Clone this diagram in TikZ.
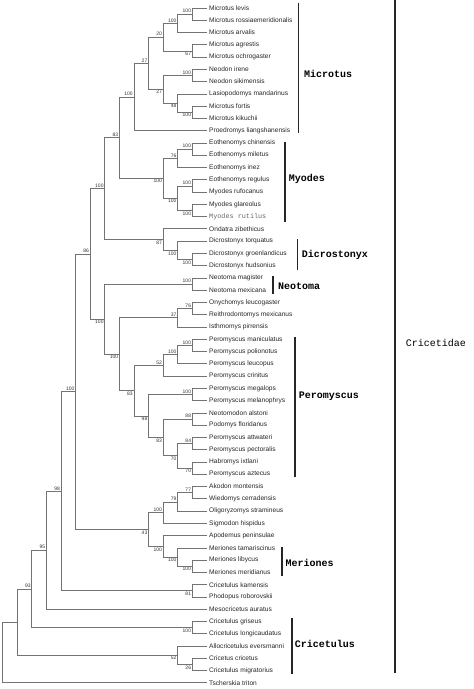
\documentclass[tikz,border=0pt]{standalone}
\usepackage{fontspec}
\setmainfont{Liberation Sans}
\setmonofont{Liberation Mono}
\usetikzlibrary{calc}

\begin{document}
\begin{tikzpicture}[x=1pt, y=-1pt,
                    branch/.style={draw=black!55, line width=0.75pt},
                    leaf/.style={anchor=west, inner xsep=2.2pt, inner ysep=0.5pt,
                                 font=\fontsize{6.6}{7}\selectfont, text=black!85},
                    boot/.style={inner sep=1pt, font=\fontsize{5}{6}\selectfont, text=black!80},
                    bar/.style={line width=1.6pt, draw=black!85},
                    group/.style={anchor=west, inner sep=0pt,
                                  font=\ttfamily\bfseries\fontsize{10}{12}\selectfont}]

  \useasboundingbox (0,0) rectangle (474,689);

  % Tips of the tree, one per row
  \foreach \i/\name in {1/Microtus levis, 2/Microtus rossiaemeridionalis,
      3/Microtus arvalis, 4/Microtus agrestis, 5/Microtus ochrogaster,
      6/Neodon irene, 7/Neodon sikimensis, 8/Lasiopodomys mandarinus,
      9/Microtus fortis, 10/Microtus kikuchii, 11/Proedromys liangshanensis,
      12/Eothenomys chinensis, 13/Eothenomys miletus, 14/Eothenomys inez,
      15/Eothenomys regulus, 16/Myodes rufocanus, 17/Myodes glareolus,
      18/{\ttfamily\fontsize{6.8}{7}\selectfont\color{black!60}Myodes rutilus},
      19/Ondatra zibethicus, 20/Dicrostonyx torquatus,
      21/Dicrostonyx groenlandicus, 22/Dicrostonyx hudsonius,
      23/Neotoma magister, 24/Neotoma mexicana, 25/Onychomys leucogaster,
      26/Reithrodontomys mexicanus, 27/Isthmomys pirrensis,
      28/Peromyscus maniculatus, 29/Peromyscus polionotus,
      30/Peromyscus leucopus, 31/Peromyscus crinitus, 32/Peromyscus megalops,
      33/Peromyscus melanophrys, 34/Neotomodon alstoni, 35/Podomys floridanus,
      36/Peromyscus attwateri, 37/Peromyscus pectoralis, 38/Habromys ixtlani,
      39/Peromyscus aztecus, 40/Akodon montensis, 41/Wiedomys cerradensis,
      42/Oligoryzomys stramineus, 43/Sigmodon hispidus, 44/Apodemus peninsulae,
      45/Meriones tamariscinus, 46/Meriones libycus, 47/Meriones meridianus,
      48/Cricetulus kamensis, 49/Phodopus roborovskii, 50/Mesocricetus auratus,
      51/Cricetulus griseus, 52/Cricetulus longicaudatus,
      53/Allocricetulus eversmanni, 54/Cricetus cricetus,
      55/Cricetulus migratorius, 56/Tscherskia triton} {
    \node [leaf] (l\i) at (206.8, {8+(\i-1)*12.27}) {\name};
  }

  % Clades, children first: name/level/upper/lower/bootstrap/label anchor
  \foreach \cl/\lev/\up/\dn/\bs/\pos in {
      A/13/l1/l2/100/south east, B/12/A/l3/100/south east,
      D/13/l4/l5/67/north east, C/11/B/D/20/south east,
      F/13/l6/l7/100/south east, H/13/l9/l10/100/north east,
      G/12/l8/H/48/north east, I/11/F/G/27/north east,
      E/10/C/I/27/south east, J/9/E/l11/100/south east,
      M1/13/l12/l13/100/south east, M2/12/M1/l14/76/south east,
      M3/13/l15/l16/100/south east, M4/13/l17/l18/100/north east,
      M5/12/M3/M4/100/north east, M6/11/M2/M5/100/north east,
      K/8/J/M6/83/south east,
      O1/13/l21/l22/100/north east, O2/12/l20/O1/100/north east,
      O3/11/l19/O2/87/north east, L/7/K/O3/100/south east,
      Neo/13/l23/l24/100/south east,
      V/13/l25/l26/76/south east, T/12/V/l27/37/south east,
      W1/13/l28/l29/100/south east, W2/12/W1/l30/100/south east,
      W3/11/W2/l31/52/south east, W5/13/l32/l33/100/south east,
      W6a/13/l34/l35/88/south east, W6b/13/l36/l37/84/south east,
      W6c/13/l38/l39/70/north east, W6d/12/W6b/W6c/70/north east,
      W6e/11/W6a/W6d/83/north east, W7/10/W5/W6e/98/north east,
      W4/9/W3/W7/83/north east, S/8/T/W4/100/north east,
      R/7/Neo/S/100/north east, P/6/L/R/86/south east,
      Z2/13/l40/l41/77/south east, Z1/12/Z2/l42/79/south east,
      Z/11/Z1/l43/100/south east,
      Mer3/13/l46/l47/100/north east, Mer2/12/l45/Mer3/100/north east,
      Mer/11/l44/Mer2/100/north east, X/10/Z/Mer/43/north east,
      Q/5/P/X/100/south east,
      Ck/13/l48/l49/81/north east, Y/4/Q/Ck/98/south east,
      AA/3/Y/l50/95/south east,
      Cg/13/l51/l52/100/north east, BB/2/AA/Cg/93/south east,
      Cc/13/l54/l55/26/north east, Ac/12/l53/Cc/52/north east} {
    \path let \p1=($(\up)!.5!(\dn)$) in coordinate (\cl) at ({2.7+14.58*\lev}, \y1);
    \draw [branch] (\cl) |- (\up);
    \draw [branch] (\cl) |- (\dn);
    \node [boot, anchor=\pos] (bs\cl) at (\cl) {\bs};
  }

  % Basal splits, no support shown
  \path let \p1=($(BB)!.5!(Ac)$) in coordinate (CC) at (17.3, \y1);
  \draw [branch] (CC) |- (BB);
  \draw [branch] (CC) |- (Ac);
  \path let \p1=($(CC)!.5!(l56)$) in coordinate (root) at (2.7, \y1);
  \draw [branch] (root) |- (CC);
  \draw [branch] (root) |- (l56);

  % Group bars
  \draw [bar] (298.3,2.7) -- (298.3,133.3);
  \node [group] (gMicrotus) at (304,74.3) {Microtus};
  \draw [bar] (285,141.7) -- (285,221.7);
  \node [group] (gMyodes) at (288.7,178.5) {Myodes};
  \draw [bar] (297.3,239) -- (297.3,270);
  \node [group] (gDicrostonyx) at (301.7,255) {Dicrostonyx};
  \draw [bar] (273,276) -- (273,294);
  \node [group] (gNeotoma) at (278,286) {Neotoma};
  \draw [bar] (295,336.7) -- (295,477.3);
  \node [group] (gPeromyscus) at (298.7,396) {Peromyscus};
  \draw [bar] (281.7,547.3) -- (281.7,576);
  \node [group] (gMeriones) at (285.3,562.7) {Meriones};
  \draw [bar] (292,618.3) -- (292,674);
  \node [group] (gCricetulus) at (294.7,644.3) {Cricetulus};

  % Family bar
  \draw [bar] (395,0) -- (395,673.3);
  \node [group, font=\ttfamily\fontsize{10}{12}\selectfont] (gCricetidae)
        at (405.7,342.7) {Cricetidae};

\end{tikzpicture}
\end{document}
